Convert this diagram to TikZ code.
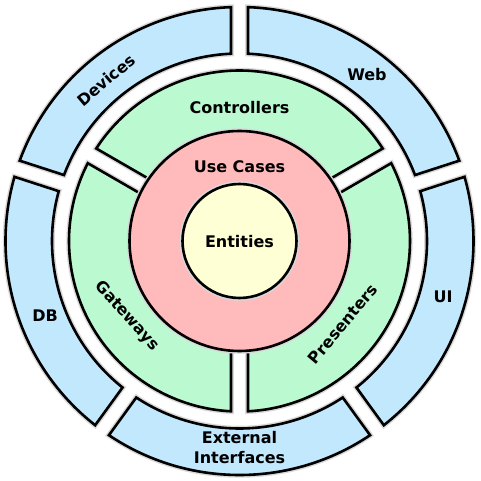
\documentclass[tikz,border=0pt]{standalone}
\usepackage{fontspec}
\setmainfont{DejaVu Sans}
\usepackage{tikz}

\definecolor{ringblue}{RGB}{194,232,253}
\definecolor{ringgreen}{RGB}{187,249,209}
\definecolor{corered}{RGB}{255,187,187}
\definecolor{coreyellow}{RGB}{255,255,213}

% one piece of a ring: colour, outer r, inner r, start angle, end angle, half gap
\newcommand{\ringpart}[6]{%
  \pgfmathsetmacro{\offout}{asin(#6/#2)}%
  \pgfmathsetmacro{\offin}{asin(#6/#3)}%
  \draw[part, fill=#1] (#4+\offout:#2) arc[start angle=#4+\offout, end angle=#5-\offout, radius=#2pt]
    -- (#5-\offin:#3) arc[start angle=#5-\offin, end angle=#4+\offin, radius=#3pt] -- cycle;
}

\begin{document}
\begin{tikzpicture}[x=1pt, y=1pt,
    part/.style={draw=black, line width=2.6pt, line join=miter,
      preaction={draw=black!15, line width=5.5pt}},
    label/.style={font=\fontsize{16}{20}\selectfont\bfseries, inner sep=0pt, align=center}]
	\useasboundingbox (-239.5,-240) rectangle (240.5,241);
	% outer ring
	\ringpart{ringblue}{234}{187.5}{18}{90}{8.5}
	\ringpart{ringblue}{234}{187.5}{90}{162}{8.5}
	\ringpart{ringblue}{234}{187.5}{162}{234}{8.5}
	\ringpart{ringblue}{234}{187.5}{234}{306}{8.5}
	\ringpart{ringblue}{234}{187.5}{-54}{18}{8.5}
	% adapters ring
	\ringpart{ringgreen}{170.5}{110}{30}{150}{8.5}
	\ringpart{ringgreen}{170.5}{110}{150}{270}{8.5}
	\ringpart{ringgreen}{170.5}{110}{-90}{30}{8.5}
	% core
	\draw[part, fill=corered] (0,0) circle[radius=110pt];
	\draw[part, fill=coreyellow] (0,0) circle[radius=57pt];
	\node[label] at (0,-1) (entities){Entities};
	\node[label] at (0,74) (usecases){Use Cases};
	\node[label] at (0,133) (controllers){Controllers};
	\node[label, rotate=-48] at (-112.5,-75) (gateways){Gateways};
	\node[label, rotate=50] at (103.5,-83) (presenters){Presenters};
	\node[label, rotate=40] at (-133.5,161) (devices){Devices};
	\node[label] at (127.5,166) (web){Web};
	\node[label] at (203.5,-56) (ui){UI};
	\node[label] at (-194.5,-75) (db){DB};
	\node[label] at (0,-207) (external){External\\Interfaces};
\end{tikzpicture}
\end{document}
